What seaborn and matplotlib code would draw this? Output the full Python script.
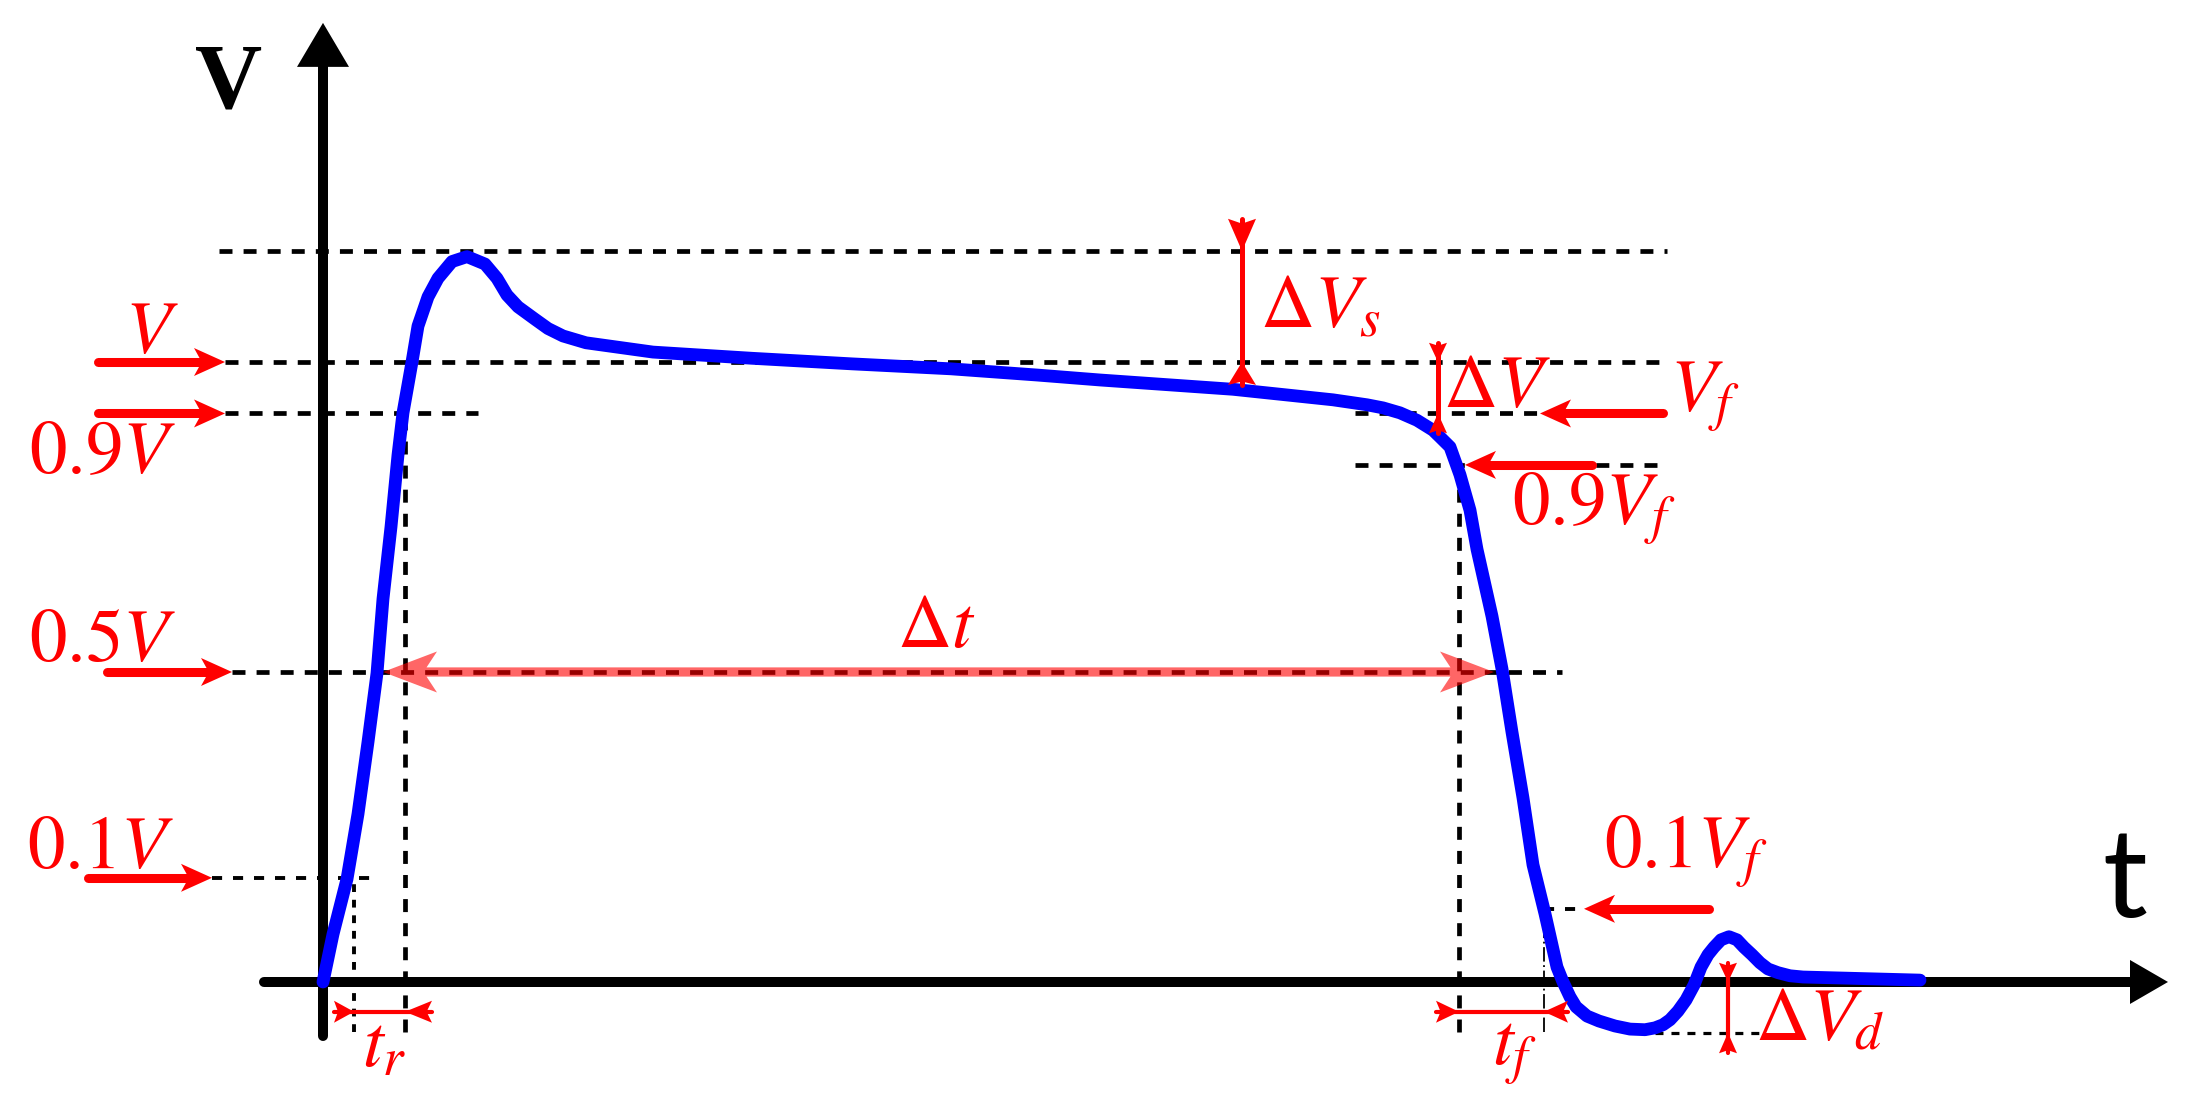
import matplotlib
matplotlib.use("Agg")
import matplotlib.pyplot as plt
import seaborn as sns

# pulse: t in arbitrary units, v as a fraction of V
wave_t = [0.00, 0.10, 0.24, 0.35, 0.45, 0.54, 0.60, 0.68, 0.75, 0.80, 0.89, 0.95,
          1.05, 1.15, 1.29, 1.44, 1.62, 1.74, 1.84, 1.95, 2.12, 2.25, 2.40, 2.63,
          3.30, 4.29, 5.29, 6.28, 7.14, 7.77, 9.10, 10.10, 10.44, 10.60, 10.77,
          10.94, 11.10, 11.17, 11.27, 11.37, 11.47, 11.54, 11.69, 11.79, 11.89,
          12.00, 12.10, 12.22, 12.34, 12.40, 12.47, 12.53, 12.64, 12.76, 12.92,
          13.07, 13.22, 13.32, 13.40, 13.47, 13.55, 13.63, 13.71, 13.78, 13.85,
          13.91, 13.98, 14.06, 14.14, 14.21, 14.29, 14.37, 14.45, 14.55, 14.67,
          14.80, 15.27, 15.97]
wave_v = [0.000, 0.077, 0.166, 0.271, 0.387, 0.498, 0.618, 0.734, 0.850, 0.918, 1.000, 1.058,
          1.105, 1.135, 1.162, 1.170, 1.158, 1.135, 1.108, 1.089, 1.069, 1.054, 1.042, 1.031,
          1.016, 1.006, 0.997, 0.989, 0.979, 0.971, 0.956, 0.939, 0.931, 0.926, 0.918,
          0.906, 0.890, 0.879, 0.863, 0.818, 0.761, 0.698, 0.590, 0.505, 0.403,
          0.297, 0.189, 0.110, 0.024, 0.000, -0.024, -0.040, -0.055, -0.063, -0.071,
          -0.076, -0.077, -0.074, -0.069, -0.061, -0.047, -0.029, -0.005, 0.024, 0.044,
          0.056, 0.068, 0.073, 0.068, 0.056, 0.044, 0.031, 0.021, 0.015, 0.010,
          0.008, 0.006, 0.003]

# reference levels
v_peak = 1.179
v_top = 1.0
v_90 = 0.917
v_50 = 0.5
v_10 = 0.168
v_f = 0.917
v_90f = 0.834
v_10f = 0.118
v_under = -0.082

# crossing times
t_10 = 0.31
t_90 = 0.82
t_90f = 11.36
t_10f = 12.21

BLUE = "#0000FF"
RED = "#FF0000"
PX_T = 100.0   # pixels per t unit
PX_V = 620.0   # pixels per v unit

sns.set_style("white")
plt.rcParams["mathtext.fontset"] = "stix"
plt.rcParams["font.family"] = ["DejaVu Sans"]

fig = plt.figure(figsize=(21.87, 11.18), dpi=100)
ax = fig.add_axes([0, 0, 1, 1])
ax.set_xlim(-3.23, 18.64)
ax.set_ylim(-0.2194, 1.5839)
ax.axis("off")


def head(tip, direction, length, half, color, notch=0.25, alpha=1.0, z=5):
    ux, uy = {"right": (1, 0), "left": (-1, 0), "up": (0, 1), "down": (0, -1)}[direction]
    nx, ny = -uy, ux
    pts = [(0, 0),
           (-length * ux + half * nx, -length * uy + half * ny),
           (-length * (1 - notch) * ux, -length * (1 - notch) * uy),
           (-length * ux - half * nx, -length * uy - half * ny)]
    xs = [tip[0] + a / PX_T for a, b in pts]
    ys = [tip[1] + b / PX_V for a, b in pts]
    ax.fill(xs, ys, color=color, lw=0, alpha=alpha, zorder=z)


def dashed_h(v, t0, t1, lw=3.4, dashes=(2.75, 2.35)):
    ax.plot([t0, t1], [v, v], color="k", lw=lw, dashes=dashes, zorder=1)


def dashed_v(t, v0, v1, lw=3.4, dashes=(2.75, 2.35)):
    ax.plot([t, t], [v0, v1], color="k", lw=lw, dashes=dashes, zorder=1)


# dashed guide lines
dashed_h(v_peak, -1.04, 13.44)
dashed_h(v_top, -0.98, 13.44)
dashed_h(v_90, -0.98, 1.55)
dashed_h(v_f, 10.32, 12.37)
dashed_h(v_90f, 10.32, 13.44)
dashed_h(v_50, -0.91, 12.39)
dashed_h(v_10, -1.11, 0.51, lw=2.8, dashes=(2.6, 2.8))
dashed_h(v_10f, 12.21, 12.61, lw=2.8, dashes=(2.6, 2.8))
dashed_h(v_under, 13.32, 14.42, lw=2.3, dashes=(2.5, 2.5))
dashed_v(t_10, -0.081, v_10, lw=2.8, dashes=(2.0, 2.0))
dashed_v(t_90, -0.081, v_90)
dashed_v(t_90f, -0.081, v_90f)
dashed_v(t_10f, -0.081, v_10f, lw=1.3, dashes=(8, 2, 1, 2))

# axes with arrow heads
ax.plot([0, 0], [-0.087, 1.48], color="k", lw=7.2, solid_capstyle="round", zorder=3)
head((0, 1.547), "up", 44, 26, "k", notch=0, z=3)
ax.plot([-0.59, 18.08], [0, 0], color="k", lw=7.2, solid_capstyle="round", zorder=3)
head((18.45, 0), "right", 38, 22, "k", notch=0, z=3)

# delta t arrow (semi transparent, one polygon so the overlap stays even)
dt_left, dt_right = 0.60, 11.71
L, W, n, h = 54, 20.5, 0.25, 4.6
xb = L * (1 - n) + n * L * h / W
left_px = [(0, 0), (L, W), (xb, h)]
right_px = [(-xb, h), (-L, W), (0, 0), (-L, -W), (-xb, -h)]
xs = [dt_left + a / PX_T for a, b in left_px]
ys = [v_50 + b / PX_V for a, b in left_px]
xs += [dt_right + a / PX_T for a, b in right_px]
ys += [v_50 + b / PX_V for a, b in right_px]
xs += [dt_left + xb / PX_T, dt_left + L / PX_T]
ys += [v_50 - h / PX_V, v_50 - W / PX_V]
ax.fill(xs, ys, color=RED, alpha=0.6, lw=0, zorder=2)

# the pulse
sns.lineplot(x=wave_t, y=wave_v, sort=False, estimator=None, color=BLUE, lw=9.2,
             ax=ax, zorder=4, legend=False)
ax.lines[-1].set_solid_joinstyle("round")

# level arrows pointing at the dashed lines
level_arrows = [
    (v_top, -2.25, -0.98), (v_90, -2.25, -0.98), (v_50, -2.16, -0.91), (v_10, -2.355, -1.11),
    (v_f, 13.40, 12.17), (v_90f, 12.69, 11.42), (v_10f, 13.86, 12.61),
]
for v, tail, tip in level_arrows:
    d = "right" if tip > tail else "left"
    sgn = 1 if d == "right" else -1
    ax.plot([tail, tip - sgn * 22 / PX_T], [v, v], color=RED, lw=6.5,
            solid_capstyle="round", zorder=5)
    head((tip, v), d, 31, 14, RED, notch=0.25)


# vertical double arrows (pointing inward)
def v_double(t, top_base, top_tip, bot_base, bot_tip, half, lw=3.6):
    ax.plot([t, t], [top_base, bot_base], color=RED, lw=lw, zorder=5)
    head((t, top_tip), "down", (top_base - top_tip) * PX_V, half, RED, notch=0.15)
    head((t, bot_tip), "up", (bot_tip - bot_base) * PX_V, half, RED, notch=0.15)


v_double(9.19, 1.231, v_peak, 0.963, v_top, 14)
v_double(11.15, 1.031, v_top, 0.885, v_f, 9)
v_double(14.05, 0.031, 0.0, -0.115, v_under, 9, lw=3.0)


# horizontal double arrows for rise / fall time
def h_double(v, left_base, left_tip, right_base, right_tip, half=11):
    ax.plot([left_base, right_base], [v, v], color=RED, lw=3.0, zorder=5)
    head((left_tip, v), "right", (left_tip - left_base) * PX_T, half, RED, notch=0.2)
    head((right_tip, v), "left", (right_base - right_tip) * PX_T, half, RED, notch=0.2)


h_double(-0.048, 0.11, t_10, 1.09, t_90)
h_double(-0.048, 11.13, t_90f, 12.45, t_10f)

# axis letters
ax.text(-1.28, 1.411, "V", family="Liberation Serif", fontweight="bold", fontsize=67,
        color="k", ha="left", va="baseline", zorder=6)
ax.text(17.79, 0.105, "t", family="Lato", fontsize=90, color="k", ha="left",
        va="baseline", zorder=6)

# red labels
labels = [
    (-1.98, 1.015, r"$V$"),
    (-2.94, 0.821, r"$0.9V$"),
    (-2.94, 0.518, r"$0.5V$"),
    (-2.96, 0.184, r"$0.1V$"),
    (9.37, 1.056, r"$\Delta V_s$"),
    (11.20, 0.927, r"$\Delta V$"),
    (13.47, 0.919, r"$V_f$"),
    (11.89, 0.737, r"$0.9V_f$"),
    (5.74, 0.540, r"$\Delta t$"),
    (12.81, 0.184, r"$0.1V_f$"),
    (0.39, -0.135, r"$t_r$"),
    (11.69, -0.134, r"$t_f$"),
    (14.32, -0.094, r"$\Delta V_d$"),
]
for t, v, s in labels:
    ax.text(t, v, s, fontsize=54, color=RED, ha="left", va="baseline", zorder=6)

fig.savefig("out.png", dpi=100, facecolor="white")
